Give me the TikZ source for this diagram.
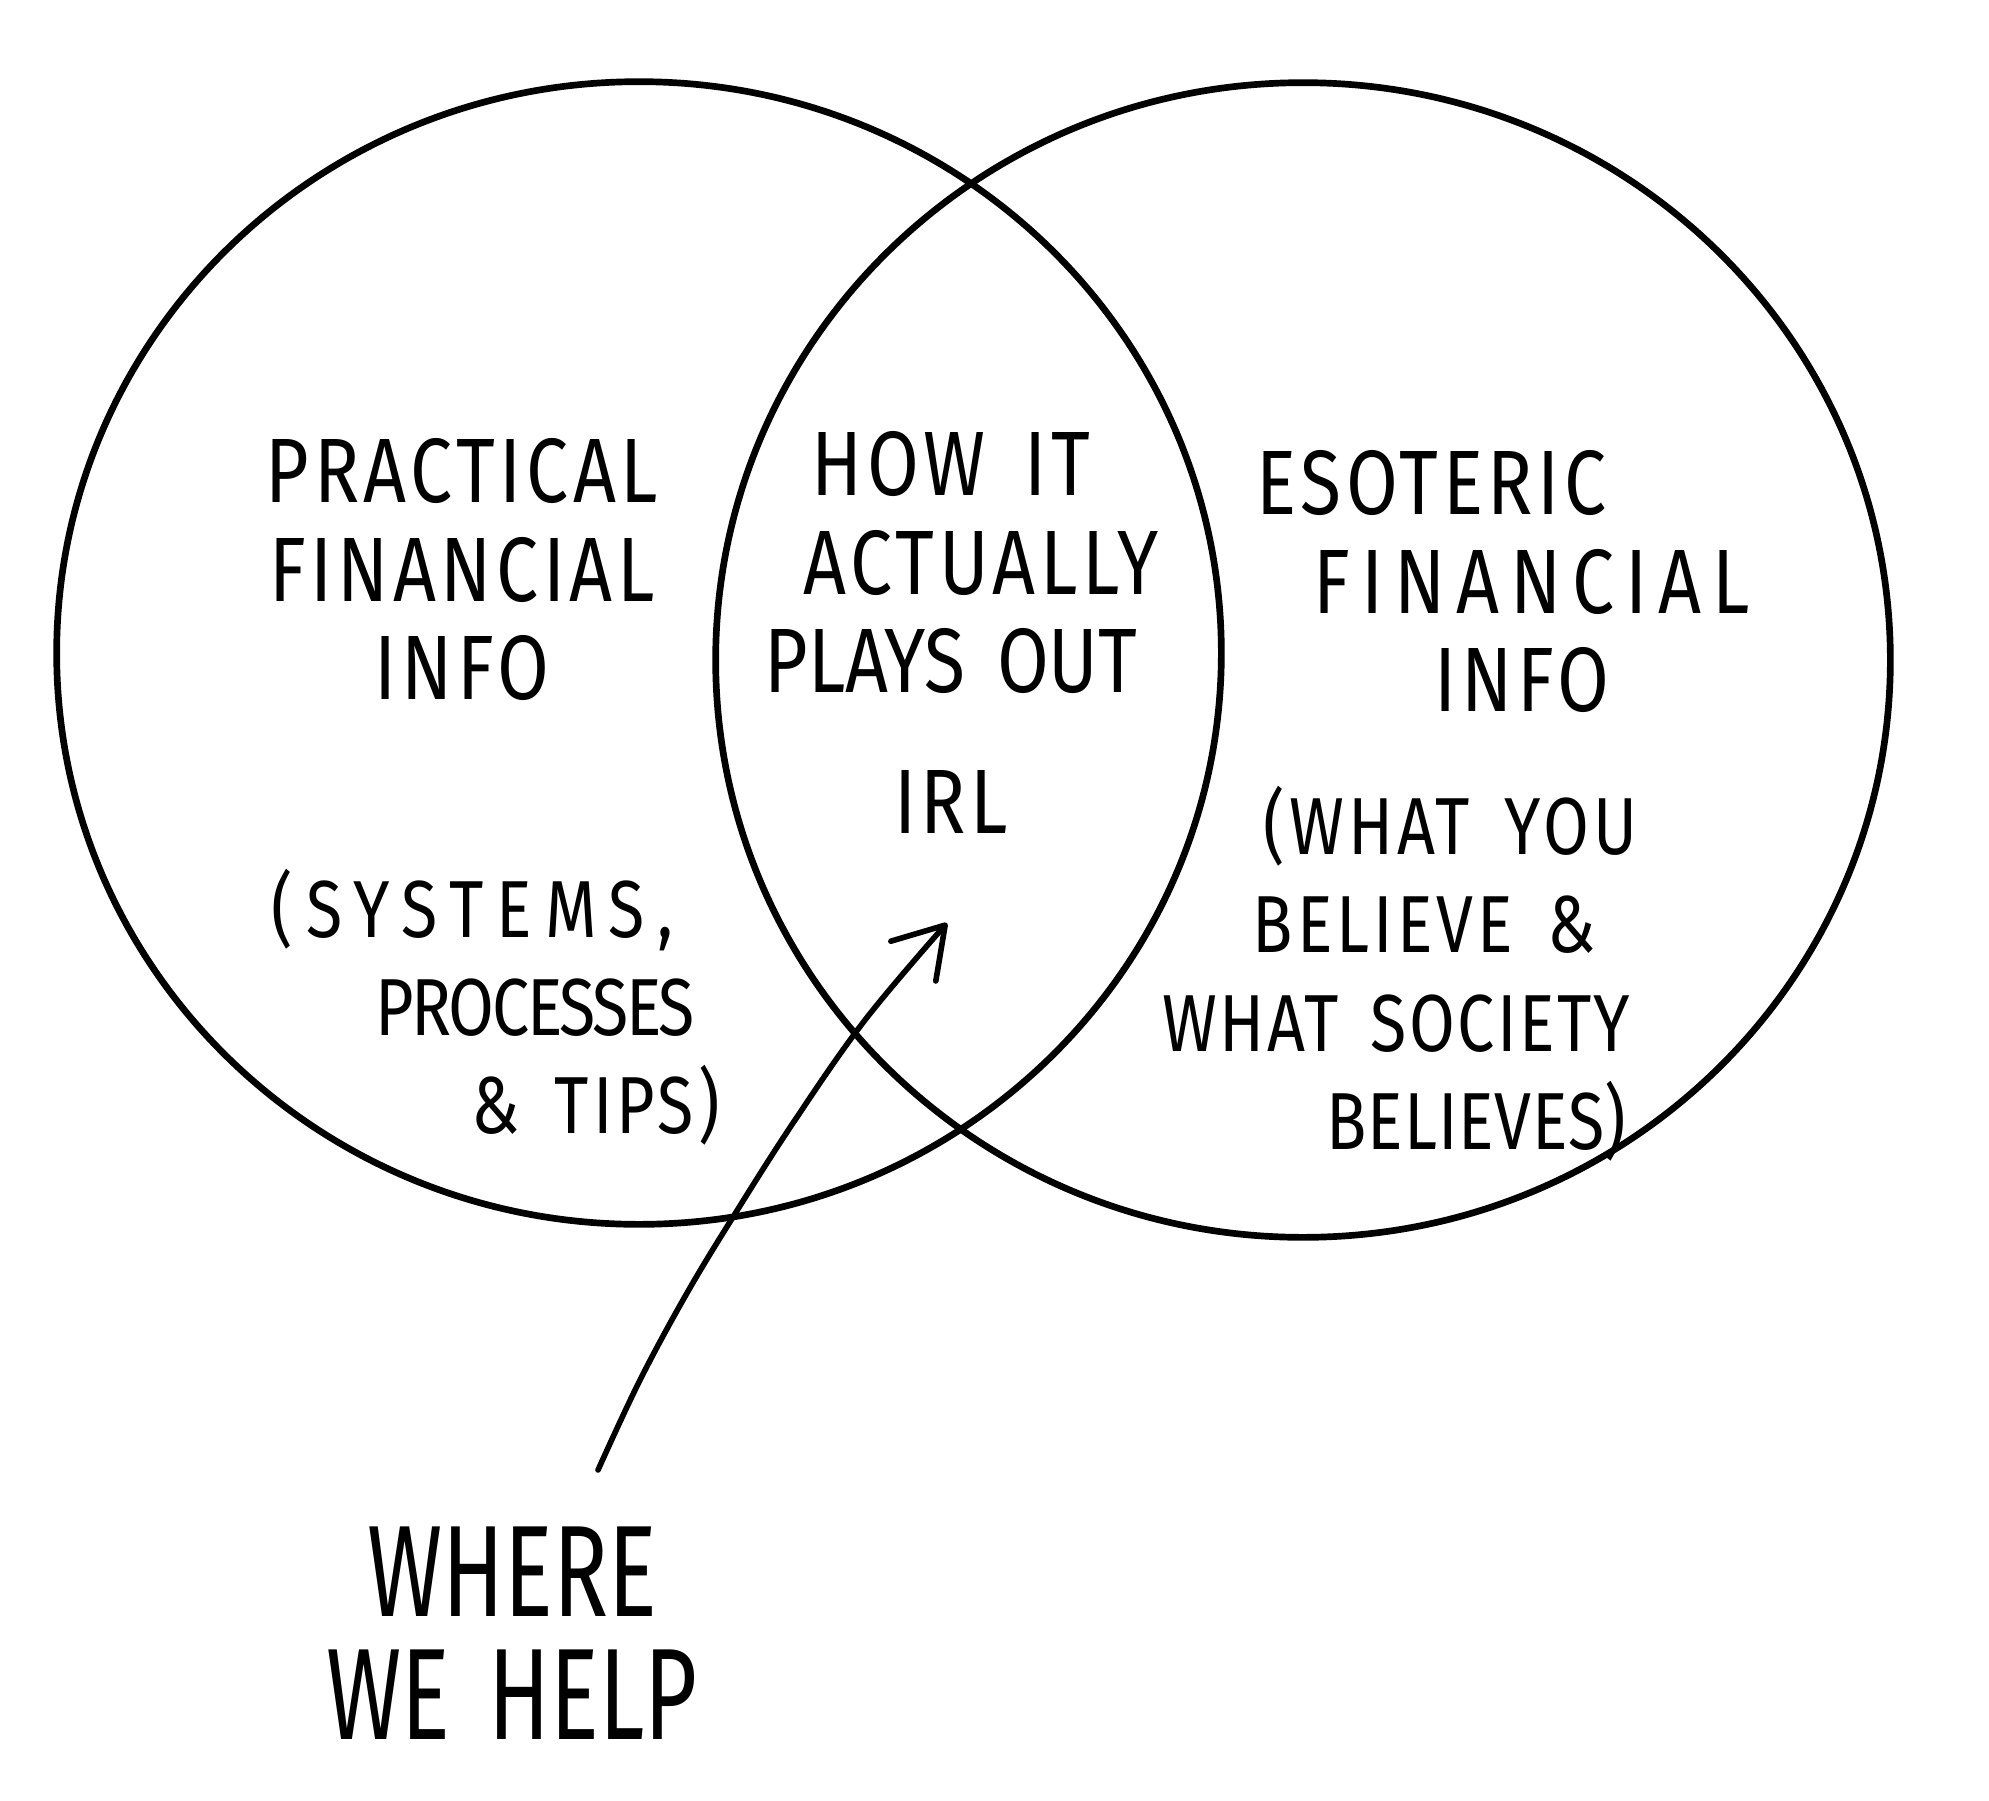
\documentclass[tikz,border=0pt]{standalone}
\usepackage{fontspec}
\setmainfont{Fira Sans}[FakeStretch=0.82, LetterSpace=5, WordSpace=1.6]
\usetikzlibrary{
  shapes.geometric,
  arrows.meta,
  positioning
}
\tikzset{
  %% the two sets
  venn/.style = {
    ellipse, draw = black, line width = 1.9pt,
    inner sep = 0pt
  },
  %% hand lettering
  bigtxt/.style = {
    font = \fontsize{26}{28}\selectfont, inner sep = 0pt
  },
  smalltxt/.style = {
    font = \fontsize{23}{28}\selectfont, inner sep = 0pt, align = left
  },
  helptxt/.style = {
    font = \fontsize{37}{35}\selectfont\addfontfeature{FakeStretch = 0.7, LetterSpace = 0},
    inner sep = 0pt, align = center
  },
  %% pointer
  arr/.style = {
    -{Straight Barb[length = 4.8mm, width = 6mm, line cap = round, line join = round]},
    line width = 1.6pt, line cap = round
  },
}
\newcommand{\wide}[2]{{\addfontfeature{LetterSpace = #1}#2}}

\begin{document}
\begin{tikzpicture}[x = 0.01cm, y = -0.01cm]
  \useasboundingbox (0,0) rectangle (1989,1800);

  %% circles
  \node[venn, minimum width = 11.64cm, minimum height = 11.42cm] (practical) at (639,653) {};
  \node[venn, minimum width = 11.74cm, minimum height = 11.54cm] (esoteric) at (1303,660) {};

  %% labels
  \node[bigtxt, align = center, anchor = north] (pracinfo) at (462,438)
    {PRACTICAL\\FINANCIAL\\INFO};
  \node[bigtxt, align = center, anchor = north] (irl) at (951,431)
    {HOW IT\\\hspace*{0.6cm}ACTUALLY\\\wide{0}{PLAYS OUT}\\[0.42cm]IRL};
  \node[bigtxt, align = left, anchor = north west] (esoinfo) at (1256,450)
    {ESOTERIC\\\hspace*{0.57cm}\wide{12}{FINANCIAL}\\\hspace*{1.78cm}INFO};

  \node[smalltxt, anchor = north west] (systems) at (271,868)
    {\wide{16}{(SYSTEMS,}\\\hspace*{1.04cm}\wide{-3}{PROCESSES}\\\hspace*{2.0cm}\& TIPS)};
  \node[smalltxt, anchor = north west] (believe) at (1162,785)
    {\hspace*{1.01cm}(WHAT YOU\\\hspace*{0.9cm}BELIEVE \&\\\wide{3}{WHAT SOCIETY}\\\hspace*{1.64cm}\wide{1}{BELIEVES)}};

  \node[helptxt, anchor = north] (help) at (512,1526) {WHERE\\WE HELP};

  %% arrow
  \coordinate (tail) at ([shift = {(86,-56)}]help.north);
  \coordinate (tip) at (947,923);
  \draw[arr] plot[smooth, tension = 0.6] coordinates
    {(tail) (640,1380) (687,1293) (733,1217) (793,1123) (865,1020) (tip)};

\end{tikzpicture}
\end{document}
